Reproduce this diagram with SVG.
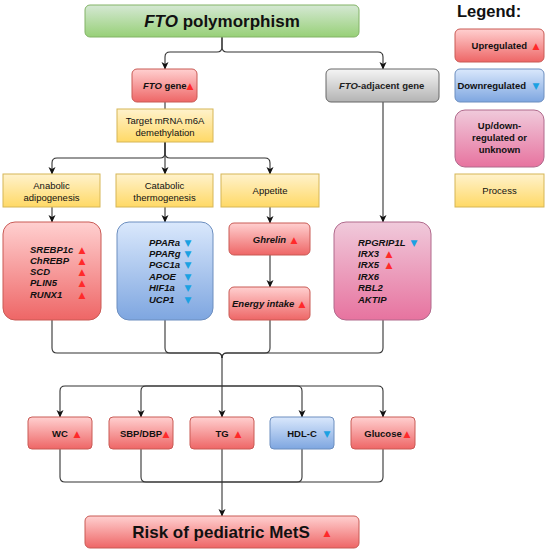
<svg xmlns="http://www.w3.org/2000/svg" width="547" height="550" viewBox="0 0 547 550">
<defs>
<linearGradient id="gRed" x1="0" y1="0" x2="0" y2="1"><stop offset="0" stop-color="#FFD0D0"/><stop offset="1" stop-color="#EE6666"/></linearGradient>
<linearGradient id="gBlue" x1="0" y1="0" x2="0" y2="1"><stop offset="0" stop-color="#DAE8FC"/><stop offset="1" stop-color="#7EA6E0"/></linearGradient>
<linearGradient id="gGreen" x1="0" y1="0" x2="0" y2="1"><stop offset="0" stop-color="#D5E8D4"/><stop offset="1" stop-color="#97D077"/></linearGradient>
<linearGradient id="gYellow" x1="0" y1="0" x2="0" y2="1"><stop offset="0" stop-color="#FFF2CC"/><stop offset="1" stop-color="#FFD966"/></linearGradient>
<linearGradient id="gGray" x1="0" y1="0" x2="0" y2="1"><stop offset="0" stop-color="#F5F5F5"/><stop offset="1" stop-color="#B3B3B3"/></linearGradient>
<linearGradient id="gPink" x1="0" y1="0" x2="0" y2="1"><stop offset="0" stop-color="#F0CADB"/><stop offset="1" stop-color="#E7739F"/></linearGradient>
<marker id="arr" markerWidth="8" markerHeight="8" refX="7" refY="4" orient="auto" markerUnits="userSpaceOnUse">
<path d="M0,0.5 L7.5,4 L0,7.5 L2,4 Z" fill="#111"/>
</marker>
<style>
text{font-family:"Liberation Sans",Arial,"DejaVu Sans",sans-serif;fill:#111}
.red{fill:url(#gRed);stroke:#C95A55;stroke-width:1}
.blue{fill:url(#gBlue);stroke:#6C8EBF;stroke-width:1}
.green{fill:url(#gGreen);stroke:#82B366;stroke-width:1}
.yel{fill:url(#gYellow);stroke:#D6B656;stroke-width:1}
.gray{fill:url(#gGray);stroke:#666;stroke-width:1}
.pink{fill:url(#gPink);stroke:#B06A8C;stroke-width:1}
.s{font-size:9.5px}
.b{font-size:9.5px;font-weight:bold}
.bi{font-size:9.5px;font-weight:bold;font-style:italic}
.big{font-size:17px;font-weight:bold}
.up{font-family:"DejaVu Sans",sans-serif;font-size:9px;fill:#FF2A2A;text-anchor:middle}
.dn{font-family:"DejaVu Sans",sans-serif;font-size:9px;fill:#1BA1E2;text-anchor:middle}
.m{text-anchor:middle}
.e{text-anchor:end}
.c{fill:none;stroke:#333;stroke-width:1.1}
</style>
</defs>

<g id="connectors">
<path class="c" d="M222,37 V47 Q222,52 217,52 H170 Q165,52 165,57 V69" marker-end="url(#arr)"/>
<path class="c" d="M222,37 V47 Q222,52 227,52 H378 Q383,52 383,57 V69" marker-end="url(#arr)"/>
<path class="c" d="M165,102 V109"/>
<path class="c" d="M383,102 V222" marker-end="url(#arr)"/>
<path class="c" d="M165,142 V153 Q165,158 160,158 H57 Q52,158 52,163 V174" marker-end="url(#arr)"/>
<path class="c" d="M165,142 V174" marker-end="url(#arr)"/>
<path class="c" d="M165,142 V153 Q165,158 170,158 H265 Q270,158 270,163 V174" marker-end="url(#arr)"/>
<path class="c" d="M52,207 V222" marker-end="url(#arr)"/>
<path class="c" d="M165,207 V222" marker-end="url(#arr)"/>
<path class="c" d="M270,207 V223" marker-end="url(#arr)"/>
<path class="c" d="M270,255 V287" marker-end="url(#arr)"/>
<path class="c" d="M52,320 V348 Q52,353 57,353 H217 Q222,353 222,358"/>
<path class="c" d="M165,320 V348 Q165,353 170,353 H217 Q222,353 222,358"/>
<path class="c" d="M270,320 V348 Q270,353 265,353 H227 Q222,353 222,358"/>
<path class="c" d="M383,320 V348 Q383,353 378,353 H227 Q222,353 222,358"/>
<path class="c" d="M222,358 V417" marker-end="url(#arr)"/>
<path class="c" d="M222,386 H65 Q60,386 60,391 V417" marker-end="url(#arr)"/>
<path class="c" d="M222,386 H146 Q141,386 141,391 V417" marker-end="url(#arr)"/>
<path class="c" d="M222,386 H297 Q302,386 302,391 V417" marker-end="url(#arr)"/>
<path class="c" d="M222,386 H378 Q383,386 383,391 V417" marker-end="url(#arr)"/>
<path class="c" d="M60,449 V477 Q60,482 65,482 H222"/>
<path class="c" d="M141,449 V477 Q141,482 146,482 H222"/>
<path class="c" d="M302,449 V477 Q302,482 297,482 H222"/>
<path class="c" d="M383,449 V477 Q383,482 378,482 H222"/>
<path class="c" d="M222,449 V516" marker-end="url(#arr)"/>
</g>

<g id="fto-polymorphism">
<rect class="green" x="85" y="5" width="274" height="32" rx="5"/>
<text class="big m" x="222" y="27"><tspan font-style="italic">FTO</tspan> polymorphism</text>
</g>

<g id="fto-gene">
<rect class="red" x="132" y="69" width="65" height="33" rx="5"/>
<text class="b" x="143" y="89"><tspan font-style="italic">FTO</tspan> gene</text>
<text class="up" x="190" y="89">▲</text>
</g>

<g id="fto-adjacent">
<rect class="gray" x="326" y="69" width="113" height="33" rx="5"/>
<text class="b" x="339" y="89" style="fill:#222"><tspan font-style="italic">FTO</tspan>-adjacent gene</text>
</g>

<g id="target">
<rect class="yel" x="117" y="109" width="96" height="33"/>
<text class="s m" x="165" y="124">Target mRNA m6A</text>
<text class="s m" x="165" y="135.5">demethylation</text>
</g>

<g id="anabolic">
<rect class="yel" x="3" y="174" width="97" height="33"/>
<text class="s m" x="51.5" y="188.5">Anabolic</text>
<text class="s m" x="51.5" y="200.5">adipogenesis</text>
</g>

<g id="catabolic">
<rect class="yel" x="116" y="174" width="97" height="33"/>
<text class="s m" x="164.5" y="188.5">Catabolic</text>
<text class="s m" x="164.5" y="200.5">thermogenesis</text>
</g>

<g id="appetite">
<rect class="yel" x="221" y="174" width="98" height="33"/>
<text class="s m" x="270" y="194">Appetite</text>
</g>

<g id="anabolic-genes">
<rect class="red" x="3" y="222" width="98" height="98" rx="12"/>
<text class="bi" x="30" y="252.5">SREBP1c</text>
<text class="bi" x="30" y="263.8">ChREBP</text>
<text class="bi" x="30" y="275.1">SCD</text>
<text class="bi" x="30" y="286.4">PLIN5</text>
<text class="bi" x="30" y="297.7">RUNX1</text>
<text class="up" x="82" y="252.5">▲</text>
<text class="up" x="82" y="263.8">▲</text>
<text class="up" x="82" y="275.1">▲</text>
<text class="up" x="82" y="286.4">▲</text>
<text class="up" x="82" y="297.7">▲</text>
</g>

<g id="catabolic-genes">
<rect class="blue" x="117" y="222" width="96" height="98" rx="12"/>
<text class="bi" x="149" y="245.5">PPARa</text>
<text class="bi" x="149" y="257">PPARg</text>
<text class="bi" x="149" y="268.4">PGC1a</text>
<text class="bi" x="149" y="279.8">APOE</text>
<text class="bi" x="149" y="291.2">HIF1a</text>
<text class="bi" x="149" y="302.6">UCP1</text>
<text class="dn" x="188" y="245.5">▼</text>
<text class="dn" x="188" y="257">▼</text>
<text class="dn" x="188" y="268.4">▼</text>
<text class="dn" x="188" y="279.8">▼</text>
<text class="dn" x="188" y="291.2">▼</text>
<text class="dn" x="188" y="302.6">▼</text>
</g>

<g id="ghrelin">
<rect class="red" x="229" y="223" width="81" height="32" rx="5"/>
<text class="bi m" x="269.5" y="242.5">Ghrelin</text>
<text class="up" x="294" y="242.5">▲</text>
</g>

<g id="energy-intake">
<rect class="red" x="229" y="287" width="81" height="33" rx="5"/>
<text class="bi" x="232" y="307">Energy intake</text>
<text class="up" x="302" y="307">▲</text>
</g>

<g id="adjacent-genes">
<rect class="pink" x="334" y="222" width="97" height="98" rx="12"/>
<text class="bi" x="358" y="245.5">RPGRIP1L</text>
<text class="bi" x="358" y="257">IRX3</text>
<text class="bi" x="358" y="268.4">IRX5</text>
<text class="bi" x="358" y="279.8">IRX6</text>
<text class="bi" x="358" y="291.2">RBL2</text>
<text class="bi" x="358" y="302.6">AKTIP</text>
<text class="dn" x="414" y="245.5">▼</text>
<text class="up" x="389" y="257">▲</text>
<text class="up" x="389" y="268.4">▲</text>
</g>

<g id="wc">
<rect class="red" x="28" y="417" width="64" height="32" rx="4"/>
<text class="b m" x="60" y="436.5">WC</text>
<text class="up" x="77" y="436.5">▲</text>
</g>
<g id="sbp-dbp">
<rect class="red" x="109" y="417" width="64" height="32" rx="4"/>
<text class="b m" x="141" y="436.5">SBP/DBP</text>
<text class="up" x="166" y="436.5">▲</text>
</g>
<g id="tg">
<rect class="red" x="190" y="417" width="64" height="32" rx="4"/>
<text class="b m" x="222" y="436.5">TG</text>
<text class="up" x="238" y="436.5">▲</text>
</g>
<g id="hdl-c">
<rect class="blue" x="270" y="417" width="64" height="32" rx="4"/>
<text class="b m" x="302" y="436.5">HDL-C</text>
<text class="dn" x="327" y="436.5">▼</text>
</g>
<g id="glucose">
<rect class="red" x="351" y="417" width="64" height="32" rx="4"/>
<text class="b m" x="383" y="436.5">Glucose</text>
<text class="up" x="407" y="436.5">▲</text>
</g>

<g id="risk">
<rect class="red" x="85" y="516" width="274" height="32" rx="5"/>
<text class="big m" x="221" y="538">Risk of pediatric MetS</text>
<text class="up" x="327" y="536">▲</text>
</g>

<g id="legend">
<text x="457" y="17" style="font-size:16.5px;font-weight:bold">Legend:</text>
<rect class="red" x="455" y="29" width="89" height="33" rx="5"/>
<text class="b e" x="527" y="49">Upregulated</text>
<text class="up" x="536" y="49">▲</text>
<rect class="blue" x="455" y="69" width="89" height="33" rx="5"/>
<text class="b e" x="526" y="89">Downregulated</text>
<text class="dn" x="536" y="89">▼</text>
<rect class="pink" x="455" y="110" width="89" height="57" rx="10"/>
<text class="b m" x="499.5" y="128.5">Up/down-</text>
<text class="b m" x="499.5" y="140.5">regulated or</text>
<text class="b m" x="499.5" y="152.5">unknown</text>
<rect class="yel" x="455" y="174" width="89" height="33"/>
<text class="s m" x="499.5" y="194">Process</text>
</g>
</svg>
